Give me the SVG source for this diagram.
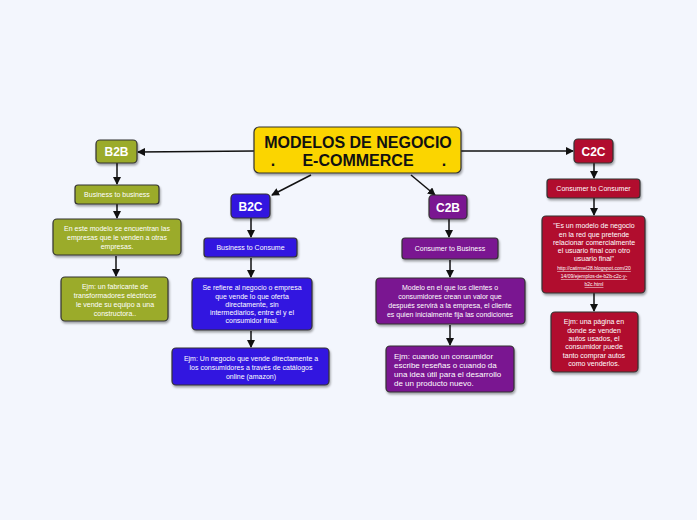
<svg xmlns="http://www.w3.org/2000/svg" width="697" height="520" viewBox="0 0 697 520">
<defs>
<marker id="ah" markerWidth="8" markerHeight="8" refX="7" refY="4" orient="auto" markerUnits="userSpaceOnUse"><path d="M0,0 L8,4 L0,8 z" fill="#111"/></marker>
<filter id="sh" x="-10%" y="-10%" width="130%" height="140%"><feDropShadow dx="1" dy="2" stdDeviation="1.2" flood-opacity="0.35"/></filter>
</defs>
<style>
rect{stroke:#333;stroke-width:1.2;filter:url(#sh)}
.g{fill:#9bab2b}.b{fill:#3312e0}.p{fill:#7a1291}.r{fill:#b1102d}.y{fill:#fbd500}
text{font-family:"Liberation Sans",Arial,sans-serif;fill:#fff;text-anchor:middle}
.s{font-size:7px}.t{font-size:8px}.h{font-size:12px;font-weight:bold}
.c line{stroke:#111;stroke-width:1.5;marker-end:url(#ah)}
</style>
<rect width="697" height="520" fill="#f3f6fd" style="stroke:none;filter:none"/>
<g class="c">
<line x1="254" y1="151" x2="138" y2="152"/>
<line x1="461" y1="151" x2="573" y2="151"/>
<line x1="311" y1="175" x2="272" y2="195"/>
<line x1="411" y1="175" x2="435" y2="195"/>
<line x1="117" y1="163" x2="117" y2="184"/>
<line x1="117" y1="204" x2="117" y2="218"/>
<line x1="116" y1="256" x2="116" y2="276"/>
<line x1="251" y1="218" x2="251" y2="237"/>
<line x1="251" y1="258" x2="251" y2="277"/>
<line x1="251" y1="331" x2="251" y2="347"/>
<line x1="449" y1="219" x2="449" y2="237"/>
<line x1="450" y1="260" x2="450" y2="277"/>
<line x1="450" y1="325" x2="450" y2="345"/>
<line x1="594" y1="163" x2="594" y2="178"/>
<line x1="594" y1="198" x2="594" y2="215"/>
<line x1="594" y1="293" x2="594" y2="311"/>
</g>
<g id="root"><rect class="y" x="254" y="127" width="207" height="46" rx="5"/>
<text x="358" y="148" style="font-size:16px;font-weight:bold;fill:#111">MODELOS DE NEGOCIO</text>
<text x="273" y="166" style="font-size:16px;font-weight:bold;fill:#111">.</text>
<text x="358" y="166" style="font-size:16px;font-weight:bold;fill:#111">E-COMMERCE</text>
<text x="444" y="166" style="font-size:16px;font-weight:bold;fill:#111">.</text></g>
<g id="b2b"><rect class="g" x="96" y="140" width="41" height="23" rx="4"/><text class="h" x="116.5" y="156">B2B</text></g>
<g id="b2b1"><rect class="g" x="75" y="185" width="84" height="19" rx="3"/><text class="s" x="117" y="197">Business to business</text></g>
<g id="b2b2"><rect class="g" x="53" y="219" width="128" height="36" rx="4"/><text class="s" x="117" y="231">En este modelo  se encuentran las</text><text class="s" x="117" y="240">empresas que le venden a otras</text><text class="s" x="117" y="249">empresas.</text></g>
<g id="b2b3"><rect class="g" x="61" y="277" width="107" height="44" rx="4"/><text class="s" x="115" y="289">Ejm: un fabricante de</text><text class="s" x="115" y="298">transformadores eléctricos</text><text class="s" x="115" y="307">le vende su equipo a una</text><text class="s" x="115" y="316">constructora..</text></g>
<g id="b2c"><rect class="b" x="231" y="194" width="39" height="24" rx="4"/><text class="h" x="250.5" y="211">B2C</text></g>
<g id="b2c1"><rect class="b" x="204" y="238" width="93" height="19" rx="3"/><text class="s" x="250.5" y="250">Business to Consume</text></g>
<g id="b2c2"><rect class="b" x="192" y="278" width="120" height="52" rx="4"/><text class="s" x="252" y="290">Se refiere al negocio o empresa</text><text class="s" x="252" y="299">que vende lo que oferta</text><text class="s" x="252" y="307">directamente, sin</text><text class="s" x="252" y="315">intermediarios, entre él y el</text><text class="s" x="252" y="323">consumidor final.</text></g>
<g id="b2c3"><rect class="b" x="172" y="348" width="157" height="37" rx="4"/><text class="s" x="251" y="361">Ejm: Un negocio que vende directamente a</text><text class="s" x="251" y="370">los consumidores a través de catálogos</text><text class="s" x="251" y="379">online (amazon)</text></g>
<g id="c2b"><rect class="p" x="429" y="195" width="38" height="24" rx="4"/><text class="h" x="448" y="212">C2B</text></g>
<g id="c2b1"><rect class="p" x="402" y="238" width="96" height="21" rx="3"/><text class="s" x="450" y="251">Consumer to Business</text></g>
<g id="c2b2"><rect class="p" x="376" y="278" width="149" height="46" rx="4"/><text class="s" x="450" y="290">Modelo en el que los clientes o</text><text class="s" x="450" y="299">consumidores crean un valor que</text><text class="s" x="450" y="308">después servirá a la empresa, el cliente</text><text class="s" x="450" y="317">es quien inicialmente fija las condiciones</text></g>
<g id="c2b3"><rect class="p" x="386" y="346" width="128" height="46" rx="4"/><text class="t" x="394" y="359" style="text-anchor:start">Ejm: cuando un consumidor</text><text class="t" x="394" y="368" style="text-anchor:start">escribe reseñas o cuando da</text><text class="t" x="394" y="377" style="text-anchor:start">una idea útil para el desarrollo</text><text class="t" x="394" y="386" style="text-anchor:start">de un producto nuevo.</text></g>
<g id="c2c"><rect class="r" x="574" y="139" width="39" height="24" rx="4"/><text class="h" x="593.5" y="156">C2C</text></g>
<g id="c2c1"><rect class="r" x="547" y="179" width="93" height="19" rx="3"/><text class="s" x="593.5" y="191">Consumer to Consumer</text></g>
<g id="c2c2"><rect class="r" x="542" y="216" width="103" height="77" rx="4"/><text class="s" x="594" y="228">"Es un modelo de negocio</text><text class="s" x="594" y="237">en la red que pretende</text><text class="s" x="594" y="245">relacionar comercialmente</text><text class="s" x="594" y="253">el usuario final con otro</text><text class="s" x="594" y="261">usuario final"</text><text x="594" y="270" style="font-size:5px;text-decoration:underline">http://catirmel28.blogspot.com/20</text><text x="594" y="278" style="font-size:5px;text-decoration:underline">14/09/ejemplos-de-b2b-c2c-y-</text><text x="594" y="286" style="font-size:5px;text-decoration:underline">b2c.html</text></g>
<g id="c2c3"><rect class="r" x="551" y="312" width="87" height="60" rx="4"/><text class="s" x="594" y="324">Ejm: una página en</text><text class="s" x="594" y="333">donde se venden</text><text class="s" x="594" y="341">autos usados, el</text><text class="s" x="594" y="349">consumidor puede</text><text class="s" x="594" y="358">tanto comprar autos</text><text class="s" x="594" y="366">como venderlos.</text></g>
</svg>
